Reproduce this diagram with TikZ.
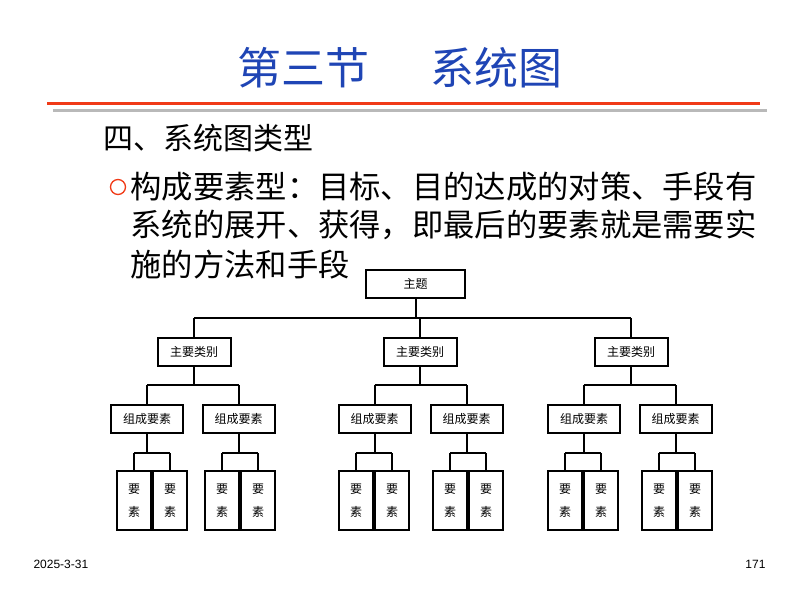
\documentclass[tikz,border=0pt]{standalone}
\usepackage{fontspec}
\setmainfont{Liberation Sans}
\newfontfamily\cjk{Noto Sans CJK SC}
\begin{document}
\begin{tikzpicture}[x=1pt,y=-1pt,
  bx/.style={draw,line width=2pt,inner sep=0pt,font=\cjk\fontsize{12}{13}\selectfont},
  ln/.style={line width=2pt}]
\useasboundingbox (0,0) rectangle (803,605);
\definecolor{tblue}{HTML}{1F45B5}
\definecolor{tred}{HTML}{F03A17}
\node[font=\cjk\fontsize{44}{48}\selectfont,text=tblue] (title) at (400,68) {第三节\hspace{1.4em}系统图};
\draw[tred,line width=3pt] (47,103) -- (760,103);
\draw[gray!55,line width=3pt] (53,110) -- (767,110);
\node[font=\cjk\fontsize{30}{31}\selectfont,anchor=west] (h) at (100,138) {四、系统图类型};
\node[draw=tred,line width=1.3pt,circle,minimum size=15pt,inner sep=0pt] (bul) at (118,187) {};
\node[font=\cjk\fontsize{31.3}{33}\selectfont,anchor=west] (l1) at (127,187) {构成要素型：目标、目的达成的对策、手段有};
\node[font=\cjk\fontsize{31.3}{33}\selectfont,anchor=west] (l2) at (127,225) {系统的展开、获得，即最后的要素就是需要实};
\node[font=\cjk\fontsize{31.3}{33}\selectfont,anchor=west] (l3) at (127,265) {施的方法和手段};
\node[bx,minimum width=99pt,minimum height=28pt] (root) at (415.5,284) {主题};
\coordinate (bus) at (415.5,318);
\draw[ln] (root.south) -- (bus);
\draw[ln] (194,318) -- (631,318);
\foreach \m/\cx/\ax/\bx/\ea/\eb [count=\i] in {1/194/147/238.5/152/240, 2/420/374.5/466.5/374/468, 3/631/584/675.5/583/677}{
  \node[bx,minimum width=73pt,minimum height=28pt] (m\i) at (\cx,352) {主要类别};
  \draw[ln] (\cx,318) -- (m\i.north);
  \draw[ln] (m\i.south) -- (\cx,385);
  \draw[ln] (\ax,385) -- (\bx,385);
  \foreach \gx/\ex/\k in {\ax/\ea/a,\bx/\eb/b}{
    \node[bx,minimum width=72pt,minimum height=28pt] (g\i\k) at (\gx,419) {组成要素};
    \draw[ln] (\gx,385) -- (g\i\k.north);
    \draw[ln] (g\i\k.south) -- (\gx,453);
    \draw[ln] (\ex-18,453) -- (\ex+18,453);
    \node[bx,minimum width=34pt,minimum height=59pt,anchor=north east] (e\i\k1) at (\ex,470) {\shortstack{要\\[9pt]素}};
    \node[bx,minimum width=34pt,minimum height=59pt,anchor=north west] (e\i\k2) at (\ex,470) {\shortstack{要\\[9pt]素}};
    \draw[ln] (\ex-18,453) -- (\ex-18,472);
    \draw[ln] (\ex+18,453) -- (\ex+18,472);
  }
}
\node[font=\fontsize{12}{14}\selectfont,anchor=west] (date) at (30,564) {2025-3-31};
\node[font=\fontsize{12}{14}\selectfont,anchor=east] (pg) at (769,564) {171};
\end{tikzpicture}
\end{document}
